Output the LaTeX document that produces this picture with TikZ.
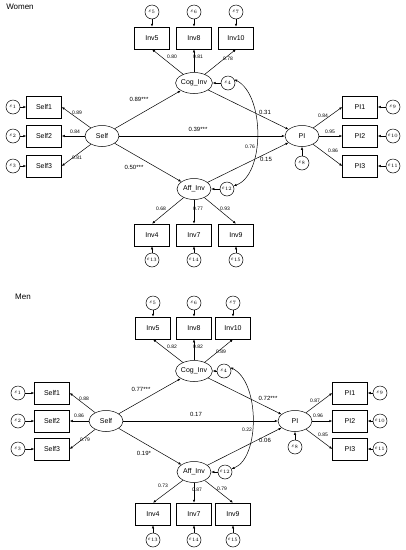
\documentclass[tikz,border=0pt]{standalone}
\usepackage{fontspec}
\setmainfont{Liberation Sans}
\usetikzlibrary{arrows.meta,shapes.geometric}
\begin{document}
\begin{tikzpicture}[x=1pt,y=-1pt,>={Latex[length=3pt,width=2.4pt]},line width=.5pt,
 ob/.style={draw,minimum width=35pt,minimum height=22pt,inner sep=1pt,font=\fontsize{7}{8}\selectfont},
 lat/.style={draw,ellipse,minimum width=34pt,minimum height=21pt,inner sep=0pt,font=\fontsize{7}{8}\selectfont},
 er/.style={draw,circle,minimum size=14pt,inner sep=0pt,font=\fontsize{5}{6}\selectfont},
 ld/.style={inner sep=0pt,font=\fontsize{5}{6}\selectfont},
 pth/.style={inner sep=0pt,font=\fontsize{6}{7}\selectfont},
 ttl/.style={anchor=west,inner sep=0pt,font=\fontsize{8}{9}\selectfont}]
\useasboundingbox (0,0) rectangle (406,550);
\node[ttl] (wTitle) at (6,7) {Women};
\node[er] (we5) at (152,12) {$\varepsilon_{5}$};
\node[er] (we6) at (194,12) {$\varepsilon_{6}$};
\node[er] (we7) at (236,12) {$\varepsilon_{7}$};
\node[ob] (wInv5) at (152,38) {Inv5};
\node[ob] (wInv8) at (194,38) {Inv8};
\node[ob] (wInv10) at (236,38) {Inv10};
\node[lat] (wCog) at (194,83) {Cog\_Inv};
\node[er] (we4) at (228,83) {$\varepsilon_{4}$};
\node[lat] (wSelf) at (102,136) {Self};
\node[ob] (wSelf1) at (44,107) {Self1};
\node[ob] (wSelf2) at (44,136) {Self2};
\node[ob] (wSelf3) at (44,166) {Self3};
\node[er] (we1) at (13,107) {$\varepsilon_{1}$};
\node[er] (we2) at (13,136) {$\varepsilon_{2}$};
\node[er] (we3) at (13,166) {$\varepsilon_{3}$};
\node[lat] (wPI) at (302,136) {PI};
\node[er] (we8) at (302,163) {$\varepsilon_{8}$};
\node[ob] (wPI1) at (360,107) {PI1};
\node[ob] (wPI2) at (360,136) {PI2};
\node[ob] (wPI3) at (360,166) {PI3};
\node[er] (we9) at (393,107) {$\varepsilon_{9}$};
\node[er] (we10) at (393,136) {$\varepsilon_{10}$};
\node[er] (we11) at (393,166) {$\varepsilon_{11}$};
\node[lat] (wAff) at (194,189) {Aff\_Inv};
\node[er] (we12) at (227,189) {$\varepsilon_{12}$};
\node[ob] (wInv4) at (152,235) {Inv4};
\node[ob] (wInv7) at (194,235) {Inv7};
\node[ob] (wInv9) at (236,235) {Inv9};
\node[er] (we13) at (152,260) {$\varepsilon_{13}$};
\node[er] (we14) at (194,260) {$\varepsilon_{14}$};
\node[er] (we15) at (236,260) {$\varepsilon_{15}$};
\draw[->] (we5) -- (wInv5);
\draw[->] (we6) -- (wInv8);
\draw[->] (we7) -- (wInv10);
\draw[->] (wCog) -- (wInv5.south) node[ld] at (172,57) {0.80};
\draw[->] (wCog) -- (wInv8) node[ld] at (198,57) {0.81};
\draw[->] (wCog) -- (wInv10.south) node[ld] at (228,59) {0.78};
\draw[->] (we4) -- (wCog);
\draw[->] (we1) -- (wSelf1);
\draw[->] (we2) -- (wSelf2);
\draw[->] (we3) -- (wSelf3);
\draw[->] (wSelf) -- (wSelf1.east) node[ld] at (77,113) {0.89};
\draw[->] (wSelf) -- (wSelf2) node[ld] at (75,132) {0.84};
\draw[->] (wSelf) -- (wSelf3.east) node[ld] at (77,158) {0.81};
\draw[->] (wSelf) -- (wCog) node[pth] at (139,99) {0.89***};
\draw[->] (wSelf) -- (wPI) node[pth] at (198,129) {0.39***};
\draw[->] (wSelf) -- (wAff) node[pth] at (134,167) {0.50***};
\draw[->] (wCog) -- (wPI) node[pth] at (265,112) {0.31};
\draw[->] (wAff) -- (wPI) node[pth] at (266,159) {0.15};
\draw[<->] (we4.30) .. controls (265,95) and (265,175) .. (we12.25) node[ld] at (250,147) {0.76};
\draw[->] (we8) -- (wPI);
\draw[->] (wPI) -- (wPI1.west) node[ld] at (323,116) {0.84};
\draw[->] (wPI) -- (wPI2) node[ld] at (330,132) {0.95};
\draw[->] (wPI) -- (wPI3.west) node[ld] at (333,151) {0.86};
\draw[->] (we9) -- (wPI1);
\draw[->] (we10) -- (wPI2);
\draw[->] (we11) -- (wPI3);
\draw[->] (we12) -- (wAff);
\draw[->] (wAff) -- (wInv4.north) node[ld] at (161,209) {0.68};
\draw[->] (wAff) -- (wInv7) node[ld] at (198,209) {0.77};
\draw[->] (wAff) -- (wInv9.north) node[ld] at (225,209) {0.93};
\draw[->] (we13) -- (wInv4);
\draw[->] (we14) -- (wInv7);
\draw[->] (we15) -- (wInv9);
\node[ttl] (mTitle) at (15,297) {Men};
\node[er] (me5) at (153,303) {$\varepsilon_{5}$};
\node[er] (me6) at (194,303) {$\varepsilon_{6}$};
\node[er] (me7) at (233,303) {$\varepsilon_{7}$};
\node[ob] (mInv5) at (153,328) {Inv5};
\node[ob] (mInv8) at (194,328) {Inv8};
\node[ob] (mInv10) at (233,328) {Inv10};
\node[lat] (mCog) at (194,371) {Cog\_Inv};
\node[er] (me4) at (224,371) {$\varepsilon_{4}$};
\node[lat] (mSelf) at (106,421) {Self};
\node[ob] (mSelf1) at (52,393) {Self1};
\node[ob] (mSelf2) at (52,421) {Self2};
\node[ob] (mSelf3) at (52,449) {Self3};
\node[er] (me1) at (18,393) {$\varepsilon_{1}$};
\node[er] (me2) at (18,421) {$\varepsilon_{2}$};
\node[er] (me3) at (18,449) {$\varepsilon_{3}$};
\node[lat] (mPI) at (295,421) {PI};
\node[er] (me8) at (295,447) {$\varepsilon_{8}$};
\node[ob] (mPI1) at (350,393) {PI1};
\node[ob] (mPI2) at (350,421) {PI2};
\node[ob] (mPI3) at (350,449) {PI3};
\node[er] (me9) at (380,393) {$\varepsilon_{9}$};
\node[er] (me10) at (380,421) {$\varepsilon_{10}$};
\node[er] (me11) at (380,449) {$\varepsilon_{11}$};
\node[lat] (mAff) at (194,472) {Aff\_Inv};
\node[er] (me12) at (225,472) {$\varepsilon_{12}$};
\node[ob] (mInv4) at (153,514) {Inv4};
\node[ob] (mInv7) at (194,514) {Inv7};
\node[ob] (mInv9) at (233,514) {Inv9};
\node[er] (me13) at (153,540) {$\varepsilon_{13}$};
\node[er] (me14) at (194,540) {$\varepsilon_{14}$};
\node[er] (me15) at (233,540) {$\varepsilon_{15}$};
\draw[->] (me5) -- (mInv5);
\draw[->] (me6) -- (mInv8);
\draw[->] (me7) -- (mInv10);
\draw[->] (mCog) -- (mInv5.south) node[ld] at (172,347) {0.82};
\draw[->] (mCog) -- (mInv8) node[ld] at (198,347) {0.82};
\draw[->] (mCog) -- (mInv10.south) node[ld] at (221,352) {0.89};
\draw[->] (me4) -- (mCog);
\draw[->] (me1) -- (mSelf1);
\draw[->] (me2) -- (mSelf2);
\draw[->] (me3) -- (mSelf3);
\draw[->] (mSelf) -- (mSelf1.east) node[ld] at (84,399) {0.88};
\draw[->] (mSelf) -- (mSelf2) node[ld] at (79,416) {0.86};
\draw[->] (mSelf) -- (mSelf3.east) node[ld] at (85,440) {0.79};
\draw[->] (mSelf) -- (mCog) node[pth] at (141,389) {0.77***};
\draw[->] (mSelf) -- (mPI) node[pth] at (196,414) {0.17};
\draw[->] (mSelf) -- (mAff) node[pth] at (144,453) {0.19*};
\draw[->] (mCog) -- (mPI) node[pth] at (268,398) {0.72***};
\draw[->] (mAff) -- (mPI) node[pth] at (265,440) {0.06};
\draw[<->] (me4.30) .. controls (260,382) and (260,458) .. (me12.25) node[ld] at (247,430) {0.22};
\draw[->] (me8) -- (mPI);
\draw[->] (mPI) -- (mPI1.west) node[ld] at (315,401) {0.87};
\draw[->] (mPI) -- (mPI2) node[ld] at (318,416) {0.96};
\draw[->] (mPI) -- (mPI3.west) node[ld] at (323,435) {0.85};
\draw[->] (me9) -- (mPI1);
\draw[->] (me10) -- (mPI2);
\draw[->] (me11) -- (mPI3);
\draw[->] (me12) -- (mAff);
\draw[->] (mAff) -- (mInv4.north) node[ld] at (163,486) {0.73};
\draw[->] (mAff) -- (mInv7) node[ld] at (197,490) {0.87};
\draw[->] (mAff) -- (mInv9.north) node[ld] at (222,489) {0.79};
\draw[->] (me13) -- (mInv4);
\draw[->] (me14) -- (mInv7);
\draw[->] (me15) -- (mInv9);
\end{tikzpicture}
\end{document}
